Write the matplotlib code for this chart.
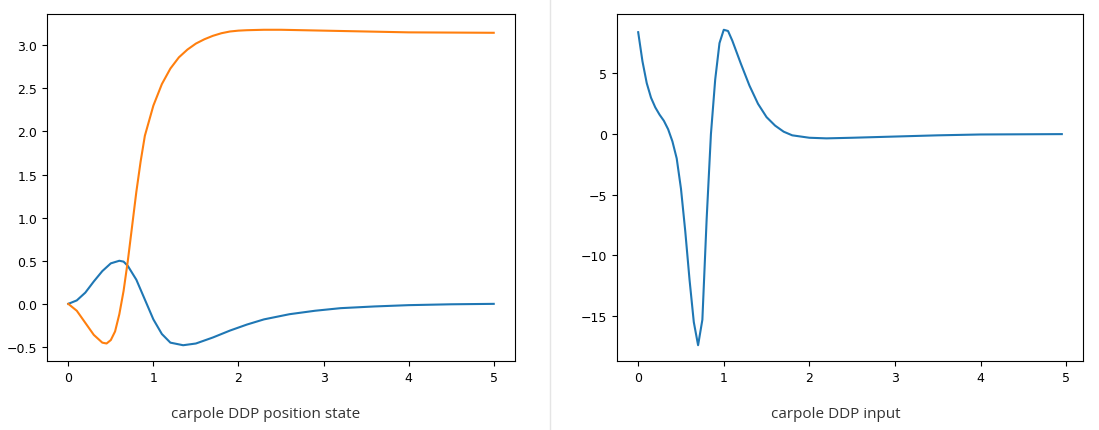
import matplotlib.pyplot as plt
from matplotlib.lines import Line2D

# position state
t_pos = [0, 0.1, 0.2, 0.3, 0.4, 0.5, 0.6, 0.65, 0.7, 0.8, 0.9, 1.0, 1.1, 1.2, 1.35, 1.5, 1.7,
         1.9, 2.1, 2.3, 2.6, 2.9, 3.2, 3.6, 4.0, 4.5, 5.0]
cart_x = [0, 0.04, 0.13, 0.26, 0.38, 0.47, 0.5, 0.49, 0.44, 0.28, 0.05, -0.18, -0.35, -0.45,
          -0.48, -0.46, -0.39, -0.31, -0.24, -0.18, -0.12, -0.08, -0.05, -0.03, -0.015, -0.005, 0]
t_th = [0, 0.1, 0.2, 0.3, 0.4, 0.45, 0.5, 0.55, 0.6, 0.65, 0.7, 0.75, 0.8, 0.85, 0.9, 1.0,
        1.1, 1.2, 1.3, 1.4, 1.5, 1.6, 1.7, 1.8, 1.9, 2.0, 2.1, 2.3, 2.5, 3.0, 3.5, 4.0, 5.0]
theta = [0, -0.08, -0.22, -0.36, -0.45, -0.46, -0.42, -0.32, -0.12, 0.15, 0.5, 0.9, 1.3, 1.65,
         1.95, 2.3, 2.55, 2.73, 2.86, 2.95, 3.02, 3.07, 3.11, 3.14, 3.16, 3.17, 3.175, 3.18,
         3.18, 3.17, 3.16, 3.15, 3.145]

# input
t_u = [0, 0.05, 0.1, 0.15, 0.2, 0.25, 0.3, 0.35, 0.4, 0.45, 0.5, 0.55, 0.6, 0.65, 0.7, 0.75,
       0.8, 0.85, 0.9, 0.95, 1.0, 1.05, 1.1, 1.2, 1.3, 1.4, 1.5, 1.6, 1.7, 1.8, 2.0, 2.2,
       2.5, 3.0, 3.5, 4.0, 4.95]
u = [8.4, 6.0, 4.2, 3.0, 2.2, 1.6, 1.1, 0.4, -0.6, -2.0, -4.5, -8.0, -12.0, -15.5, -17.4,
     -15.3, -7.0, 0.0, 4.5, 7.5, 8.6, 8.5, 7.7, 5.8, 4.0, 2.5, 1.4, 0.7, 0.2, -0.1, -0.3,
     -0.35, -0.3, -0.2, -0.1, -0.03, 0.0]

fig = plt.figure(figsize=(10.99, 4.31), dpi=100)
ax1 = fig.add_axes([47 / 1099, 1 - 362 / 431, 468 / 1099, 347 / 431])
ax2 = fig.add_axes([617 / 1099, 1 - 362 / 431, 466 / 1099, 347 / 431])

ax1.plot(t_pos, cart_x, color="#1f77b4")
ax1.plot(t_th, theta, color="#ff7f0e")
ax2.plot(t_u, u, color="#1f77b4")

ax1.set_yticks([-0.5, 0, 0.5, 1.0, 1.5, 2.0, 2.5, 3.0])
ax2.set_yticks([-15, -10, -5, 0, 5])
for ax in (ax1, ax2):
    ax.set_xticks([0, 1, 2, 3, 4, 5])
    ax.tick_params(labelsize=9)

fig.text(266 / 1099, 1 - 415 / 431, "carpole DDP position state", ha="center", va="center",
         fontsize=11, family="Open Sans", color="#333333")
fig.text(836 / 1099, 1 - 415 / 431, "carpole DDP input", ha="center", va="center",
         fontsize=11, family="Open Sans", color="#333333")
fig.add_artist(Line2D([550 / 1099, 550 / 1099], [0, 1], color="#e5e5e5", lw=1))

fig.savefig("out.png", dpi=100)
